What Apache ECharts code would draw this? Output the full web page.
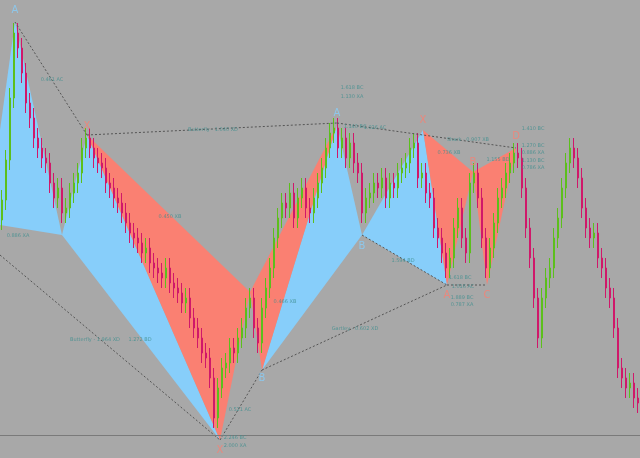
<!DOCTYPE html>
<html>
<head>
<meta charset="utf-8">
<script src="https://cdn.jsdelivr.net/npm/echarts@6/dist/echarts.min.js"></script>
<style>html,body{margin:0;background:#a8a8a8}#main{width:640px;height:458px}</style>
</head>
<body>
<div id="main"></div>
<script>
// closes, in chart units (0 = bottom of the window)
var closes = [
  258, 298, 360, 425, 410, 385, 355, 340, 320, 310,
  300, 295, 275, 260, 270, 245, 250, 265, 275, 285,
  310, 320, 310, 300, 295, 290, 275, 270, 260, 255,
  245, 235, 225, 220, 215, 205, 210, 195, 190, 185,
  180, 190, 175, 170, 165, 155, 160, 140, 130, 120,
  105, 100, 80, 40, 70, 90, 95, 110, 105, 120,
  130, 150, 160, 130, 115, 150, 170, 190, 220, 240,
  255, 250, 265, 240, 260, 270, 250, 245, 260, 275,
  290, 310, 325, 330, 310, 320, 300, 315, 295, 285,
  245, 260, 265, 275, 270, 280, 260, 275, 270, 285,
  290, 295, 310, 315, 280, 285, 265, 260, 230, 220,
  205, 190, 200, 230, 250, 220, 205, 275, 285, 260,
  220, 190, 210, 235, 260, 270, 285, 295, 305, 300,
  270, 230, 200, 160, 120, 160, 180, 190, 220, 240,
  270, 295, 310, 300, 280, 250, 230, 220, 225, 200,
  190, 170, 160, 130, 90, 80, 70, 75, 60, 55
];
var wick = 10;

// pattern triangles [x pixel, value]
var bluePolys = [
  [[0, 328], [15, 436], [62, 223], [0, 233]],
  [[62, 223], [87, 323], [220, 18]],
  [[262, 88], [337, 333], [362, 223]],
  [[362, 223], [423, 328], [447, 173]]
];
var redPolys = [
  [[87, 323], [250, 166], [220, 18]],
  [[250, 166], [337, 333], [262, 88]],
  [[423, 328], [473, 286], [447, 173]],
  [[473, 286], [516, 310], [487, 173]]
];
var dottedLines = [
  [[15, 436], [87, 323]],
  [[87, 323], [337, 335]],
  [[0, 203], [220, 18]],
  [[262, 88], [447, 173]],
  [[362, 223], [447, 173]],
  [[337, 335], [516, 310]],
  [[447, 173], [487, 173]],
  [[220, 18], [262, 88]]
];
var pointLabels = [
  ['A', 15, 448, '#87cefa'], ['X', 87, 332, '#fa8072'], ['X', 220, 8, '#fa8072'],
  ['B', 262, 80, '#87cefa'], ['A', 337, 345, '#87cefa'], ['B', 362, 212, '#87cefa'],
  ['X', 423, 338, '#fa8072'], ['B', 473, 296, '#fa8072'], ['D', 516, 322, '#fa8072'],
  ['A', 447, 163, '#fa8072'], ['C', 487, 163, '#fa8072']
];
var ratioLabels = [
  ['0.461 AC', 52, 378], ['0.886 XA', 18, 222], ['Butterfly - 1.040 XD', 213, 328],
  ['0.450 XB', 170, 241], ['Butterfly - 1.964 XD', 95, 118], ['1.272 BD', 140, 118],
  ['0.521 AC', 240, 48], ['2.246 BC', 235, 20], ['2.000 XA', 235, 12],
  ['0.466 XB', 285, 156], ['Gartley - 0.602 XD', 355, 129],
  ['1.618 BC', 352, 370], ['1.130 XA', 352, 361], ['1.140 BC', 355, 331],
  ['1.026 AC', 375, 330], ['1.594 BD', 403, 197], ['Shark - 0.907 XB', 468, 318],
  ['0.736 XB', 449, 305], ['1.155 BD', 498, 298], ['1.618 BC', 460, 180],
  ['1.016 AC', 463, 171], ['1.889 BC', 462, 160], ['0.787 XA', 462, 153],
  ['1.410 BC', 533, 329], ['1.270 BC', 533, 312], ['0.886 XA', 533, 305],
  ['1.130 BC', 533, 297], ['0.786 XA', 533, 290]
];

var cats = closes.map(function (c, i) { return i; });
var ohlc = closes.map(function (c, i) {
  var o = i === 0 ? c - 20 : closes[i - 1];
  return [o, c, Math.min(o, c) - wick, Math.max(o, c) + wick];
});

function polySeries(polys, color) {
  return {
    type: 'custom', xAxisIndex: 1, yAxisIndex: 1, z: 1, silent: true,
    data: polys.map(function (p, i) { return [i]; }),
    renderItem: function (params, api) {
      var pts = polys[params.dataIndex].map(function (p) { return api.coord(p); });
      return { type: 'polygon', shape: { points: pts }, style: { fill: color } };
    }
  };
}

var myChart = echarts.init(document.getElementById('main'));
var option = {
  backgroundColor: '#a8a8a8',
  animation: false,
  grid: { left: 0, right: 0, top: 0, bottom: 0 },
  xAxis: [
    { type: 'category', data: cats, show: false },
    { type: 'value', min: 0, max: 640, show: false }
  ],
  yAxis: [
    { type: 'value', min: 0, max: 458, show: false },
    { type: 'value', min: 0, max: 458, show: false }
  ],
  series: [
    polySeries(bluePolys, '#87cefa'),
    polySeries(redPolys, '#fa8072'),
    {
      type: 'candlestick', data: ohlc, barWidth: 2, z: 3,
      itemStyle: { color: '#5cbf1c', color0: '#d0186a', borderColor: '#5cbf1c', borderColor0: '#d0186a', borderWidth: 1 },
      markLine: {
        silent: true, symbol: 'none', label: { show: false },
        lineStyle: { color: '#7a7a7a', type: 'solid', width: 1 },
        data: [{ yAxis: 23 }]
      }
    },
    {
      type: 'custom', xAxisIndex: 1, yAxisIndex: 1, z: 4, silent: true,
      data: dottedLines.map(function (l, i) { return [i]; }),
      renderItem: function (params, api) {
        var l = dottedLines[params.dataIndex];
        var a = api.coord(l[0]), b = api.coord(l[1]);
        return {
          type: 'line', shape: { x1: a[0], y1: a[1], x2: b[0], y2: b[1] },
          style: { stroke: '#555', lineWidth: 1, lineDash: [2, 2] }
        };
      }
    },
    {
      type: 'scatter', xAxisIndex: 1, yAxisIndex: 1, symbolSize: 0, z: 5, silent: true,
      data: ratioLabels.map(function (r) { return { value: [r[1], r[2]], name: r[0] }; }),
      label: { show: true, position: 'inside', formatter: '{b}', color: '#3f8f8f', fontSize: 5, fontFamily: 'DejaVu Sans' }
    },
    {
      type: 'scatter', xAxisIndex: 1, yAxisIndex: 1, symbolSize: 0, z: 5, silent: true,
      data: pointLabels.map(function (p) {
        return { value: [p[1], p[2]], name: p[0], label: { color: p[3] } };
      }),
      label: { show: true, position: 'inside', formatter: '{b}', fontSize: 10, fontFamily: 'DejaVu Sans' }
    }
  ]
};
myChart.setOption(option);
</script>
</body>
</html>
